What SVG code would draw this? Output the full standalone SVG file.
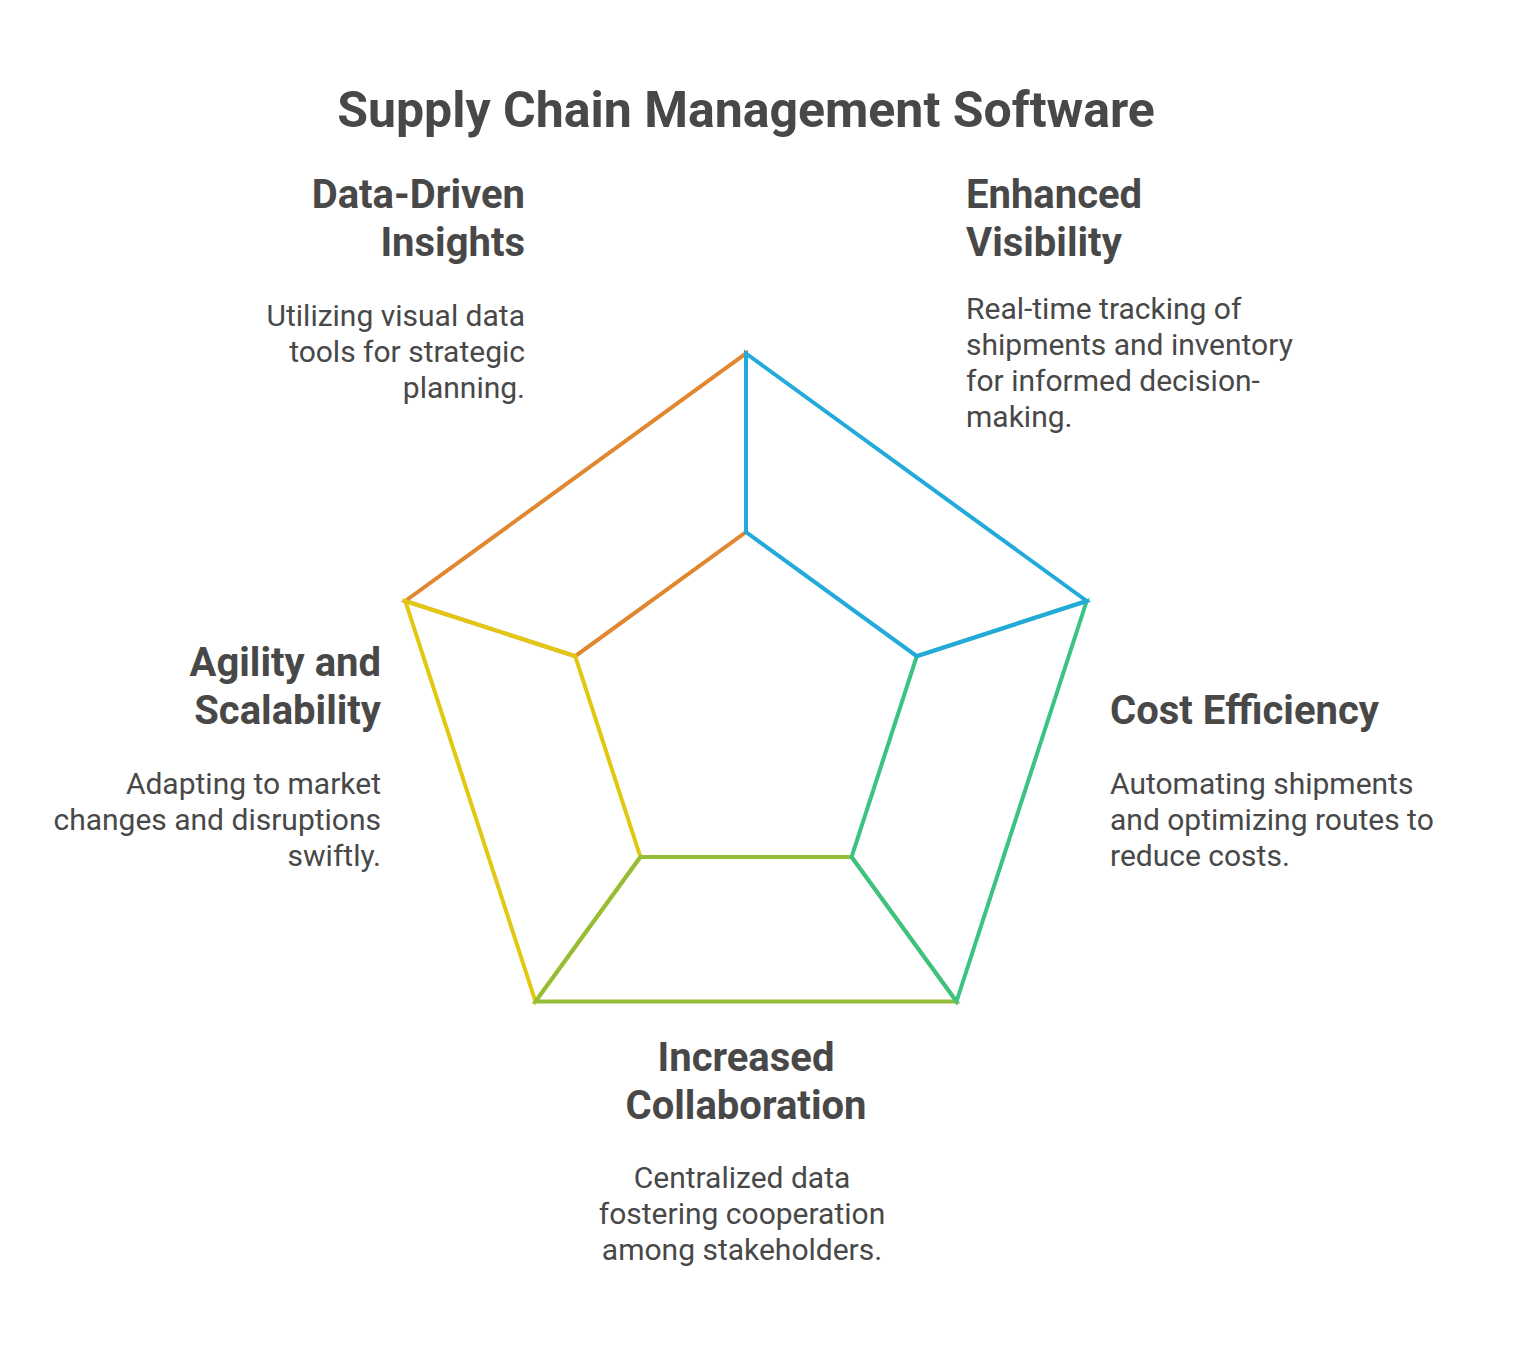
<svg xmlns="http://www.w3.org/2000/svg" width="1516" height="1372" viewBox="0 0 1516 1372">
<style>
text{font-family:Roboto,"Liberation Sans",sans-serif;fill:#484848}
.title{font-size:50px;font-weight:700}
.head{font-size:40px;font-weight:700}
.body{font-size:30px;font-weight:400}
.seg{fill:none;stroke-width:4;stroke-linejoin:miter}
</style>
<rect width="1516" height="1372" fill="#ffffff"/>
<text class="title" x="746" y="127" text-anchor="middle">Supply Chain Management Software</text>
<g id="data-driven-insights">
<path class="seg" stroke="#E0872F" d="M405.3,601 L746,353.5 L746,532.1 L575.2,656.2 Z"/>
<text class="head" text-anchor="end"><tspan x="525" y="208">Data-Driven</tspan><tspan x="525" y="256">Insights</tspan></text>
<text class="body" text-anchor="end"><tspan x="525" y="326">Utilizing visual data</tspan><tspan x="525" y="362">tools for strategic</tspan><tspan x="525" y="398">planning.</tspan></text>
</g>
<g id="agility-scalability">
<path class="seg" stroke="#E1C813" d="M535.5,1001.5 L405.3,601 L575.2,656.2 L640.4,857 Z"/>
<text class="head" text-anchor="end"><tspan x="381" y="676">Agility and</tspan><tspan x="381" y="724">Scalability</tspan></text>
<text class="body" text-anchor="end"><tspan x="381" y="794">Adapting to market</tspan><tspan x="381" y="830">changes and disruptions</tspan><tspan x="381" y="866">swiftly.</tspan></text>
</g>
<g id="increased-collaboration">
<path class="seg" stroke="#95BD37" d="M956.5,1001.5 L535.5,1001.5 L640.4,857 L851.6,857 Z"/>
<text class="head" text-anchor="middle"><tspan x="746" y="1071">Increased</tspan><tspan x="746" y="1119">Collaboration</tspan></text>
<text class="body" text-anchor="middle"><tspan x="742" y="1188">Centralized data</tspan><tspan x="742" y="1224">fostering cooperation</tspan><tspan x="742" y="1260">among stakeholders.</tspan></text>
</g>
<g id="cost-efficiency">
<path class="seg" stroke="#3BC384" d="M1086.7,601 L956.5,1001.5 L851.6,857 L916.8,656.2 Z"/>
<text class="head"><tspan x="1110" y="724">Cost Efficiency</tspan></text>
<text class="body"><tspan x="1110" y="794">Automating shipments</tspan><tspan x="1110" y="830">and optimizing routes to</tspan><tspan x="1110" y="866">reduce costs.</tspan></text>
</g>
<g id="enhanced-visibility">
<path class="seg" stroke="#22AADB" d="M746,353.5 L1086.7,601 L916.8,656.2 L746,532.1 Z"/>
<text class="head"><tspan x="966" y="208">Enhanced</tspan><tspan x="966" y="256">Visibility</tspan></text>
<text class="body"><tspan x="966" y="319">Real-time tracking of</tspan><tspan x="966" y="355">shipments and inventory</tspan><tspan x="966" y="391">for informed decision-</tspan><tspan x="966" y="427">making.</tspan></text>
</g>
<g id="connectors"></g>
</svg>
